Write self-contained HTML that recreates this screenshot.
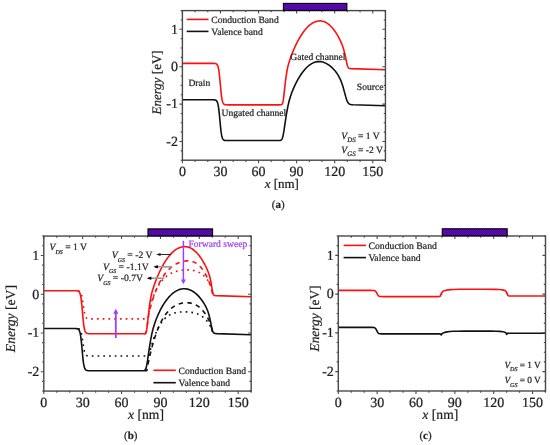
<!DOCTYPE html>
<html><head><meta charset="utf-8"><title>Energy band diagrams</title>
<style>html,body{margin:0;padding:0;background:#fff;} svg{display:block;}</style>
</head><body>
<svg width="550" height="445" viewBox="0 0 550 445" font-family="'Liberation Serif','Times New Roman',serif" fill="#1e1e1e">
<defs><pattern id="chk" width="2" height="2" patternUnits="userSpaceOnUse"><rect width="2" height="2" fill="#40088a"/><rect width="1" height="1" fill="#6a08c6"/><rect x="1" y="1" width="1" height="1" fill="#6a08c6"/></pattern></defs>
<rect width="550" height="445" fill="#fff"/>
<style>text{stroke:#1e1e1e;stroke-width:0.22px;text-rendering:geometricPrecision}</style>
<path d="M182.40,63.33 213.43,63.36 214.70,63.43 215.58,63.58 216.22,63.82 216.79,64.23 217.11,64.58 217.42,65.08 218.00,66.48 218.44,68.22 218.88,70.74 219.58,76.53 221.10,92.87 221.55,96.56 221.99,99.33 222.50,101.49 223.01,102.85 223.33,103.42 223.71,103.89 224.09,104.21 224.53,104.46 225.17,104.65 225.93,104.76 228.72,104.84 279.16,104.85 280.62,104.82 281.38,104.71 281.95,104.40 282.40,103.77 282.78,102.69 283.16,100.89 283.73,96.82 285.25,83.10 286.01,77.01 286.90,71.28 287.85,66.62 289.06,62.14 290.65,57.40 292.80,51.83 295.15,46.45 296.61,43.40 298.13,40.45 299.66,37.73 301.18,35.24 302.70,32.95 304.29,30.80 305.81,28.94 307.40,27.21 308.98,25.70 310.57,24.39 312.16,23.30 313.74,22.41 315.33,21.72 316.98,21.23 318.56,20.96 320.15,20.91 321.23,20.99 322.31,21.17 323.39,21.46 324.46,21.84 325.54,22.33 326.62,22.92 327.70,23.62 328.72,24.38 330.81,26.25 332.84,28.49 334.87,31.16 336.84,34.18 338.55,37.18 340.20,40.45 341.60,43.59 342.80,46.74 343.75,49.70 344.64,53.02 345.40,56.39 346.74,62.90 347.31,65.25 347.62,66.26 348.00,67.16 348.39,67.75 348.77,68.12 349.15,68.34 349.65,68.49 351.24,68.64 385.44,69.69" stroke="#ff1010" stroke-width="1.6" fill="none" stroke-linejoin="round"/>
<path d="M182.40,99.80 213.11,99.82 214.32,99.89 215.20,100.04 215.84,100.27 216.41,100.67 216.73,101.03 217.04,101.51 217.61,102.89 218.06,104.60 218.50,107.07 219.20,112.75 220.72,128.80 221.17,132.43 221.61,135.14 222.12,137.27 222.63,138.61 222.94,139.16 223.33,139.63 223.71,139.94 224.15,140.18 224.78,140.37 225.61,140.49 228.59,140.56 277.32,140.56 279.35,140.52 280.43,140.36 280.94,140.16 281.32,139.90 281.64,139.57 281.95,139.10 282.52,137.75 283.10,135.59 283.98,130.66 285.89,117.73 286.90,111.48 288.04,105.57 289.25,100.53 290.46,96.43 291.91,92.29 293.63,88.12 295.59,83.90 296.99,81.19 298.39,78.68 299.85,76.26 301.31,74.04 302.76,72.01 304.22,70.18 305.68,68.53 307.21,67.00 308.67,65.73 310.19,64.58 311.71,63.63 313.23,62.86 314.69,62.28 316.28,61.85 317.87,61.61 319.45,61.57 320.53,61.64 321.67,61.81 322.75,62.06 323.89,62.42 324.97,62.85 326.11,63.39 328.34,64.70 330.62,66.42 332.84,68.46 335.00,70.83 336.90,73.32 338.11,75.15 339.18,77.04 340.20,79.09 341.09,81.16 342.04,83.72 342.99,86.69 345.78,96.88 346.74,99.95 347.31,101.40 347.88,102.50 348.51,103.36 349.21,103.97 349.84,104.30 350.61,104.52 351.56,104.67 352.95,104.77 385.44,105.78" stroke="#111" stroke-width="1.6" fill="none" stroke-linejoin="round"/>
<path d="M182.40,160.20v3.0 M182.40,10.60v3.0 M195.09,160.20v1.7 M195.09,10.60v1.7 M207.78,160.20v1.7 M207.78,10.60v1.7 M220.47,160.20v3.0 M220.47,10.60v3.0 M233.16,160.20v1.7 M233.16,10.60v1.7 M245.85,160.20v1.7 M245.85,10.60v1.7 M258.54,160.20v3.0 M258.54,10.60v3.0 M271.23,160.20v1.7 M271.23,10.60v1.7 M283.92,160.20v1.7 M283.92,10.60v1.7 M296.61,160.20v3.0 M296.61,10.60v3.0 M309.30,160.20v1.7 M309.30,10.60v1.7 M321.99,160.20v1.7 M321.99,10.60v1.7 M334.68,160.20v3.0 M334.68,10.60v3.0 M347.37,160.20v1.7 M347.37,10.60v1.7 M360.06,160.20v1.7 M360.06,10.60v1.7 M372.75,160.20v3.0 M372.75,10.60v3.0 M385.44,160.20v1.7 M385.44,10.60v1.7 M182.40,160.20h-1.7 M385.44,160.20h-1.7 M182.40,150.85h-1.7 M385.44,150.85h-1.7 M182.40,141.50h-3.0 M385.44,141.50h-3.0 M182.40,132.15h-1.7 M385.44,132.15h-1.7 M182.40,122.80h-1.7 M385.44,122.80h-1.7 M182.40,113.45h-1.7 M385.44,113.45h-1.7 M182.40,104.10h-3.0 M385.44,104.10h-3.0 M182.40,94.75h-1.7 M385.44,94.75h-1.7 M182.40,85.40h-1.7 M385.44,85.40h-1.7 M182.40,76.05h-1.7 M385.44,76.05h-1.7 M182.40,66.70h-3.0 M385.44,66.70h-3.0 M182.40,57.35h-1.7 M385.44,57.35h-1.7 M182.40,48.00h-1.7 M385.44,48.00h-1.7 M182.40,38.65h-1.7 M385.44,38.65h-1.7 M182.40,29.30h-3.0 M385.44,29.30h-3.0 M182.40,19.95h-1.7 M385.44,19.95h-1.7 M182.40,10.60h-1.7 M385.44,10.60h-1.7" stroke="#484848" stroke-width="1.1" fill="none"/>
<rect x="182.40" y="10.60" width="203.04" height="149.60" fill="none" stroke="#484848" stroke-width="1.4"/>
<text x="182.40" y="176.30" text-anchor="middle" font-size="14">0</text>
<text x="220.47" y="176.30" text-anchor="middle" font-size="14">30</text>
<text x="258.54" y="176.30" text-anchor="middle" font-size="14">60</text>
<text x="296.61" y="176.30" text-anchor="middle" font-size="14">90</text>
<text x="334.68" y="176.30" text-anchor="middle" font-size="14">120</text>
<text x="372.75" y="176.30" text-anchor="middle" font-size="14">150</text>
<text x="177.90" y="33.60" text-anchor="end" font-size="14">1</text>
<text x="177.90" y="71.00" text-anchor="end" font-size="14">0</text>
<text x="177.90" y="108.40" text-anchor="end" font-size="14">-1</text>
<text x="177.90" y="145.80" text-anchor="end" font-size="14">-2</text>
<rect x="283.40" y="3.40" width="63.47" height="7.0" fill="url(#chk)" stroke="#000" stroke-width="1.1"/>
<line x1="186.7" y1="19.4" x2="208.5" y2="19.4" stroke="#ff1010" stroke-width="1.6"/>
<line x1="186.7" y1="31.4" x2="208.5" y2="31.4" stroke="#111" stroke-width="1.6"/>
<text x="211.3" y="22.6" font-size="9.6">Conduction Band</text>
<text x="211.3" y="34.7" font-size="9.6">Valence band</text>
<text x="188.4" y="86" font-size="9.6">Drain</text>
<text x="221.5" y="115.7" font-size="9.6">Ungated channel</text>
<text x="290.3" y="59.6" font-size="9.6">Gated channel</text>
<text x="356.8" y="89.5" font-size="9.6">Source</text>
<text x="341.30" y="138.90" font-size="9.6" text-anchor="start"><tspan font-style="italic">V</tspan><tspan font-style="italic" font-size="6.90" dy="3.0">DS</tspan><tspan dy="-3.0"> = 1 V</tspan></text>
<text x="341.30" y="153.00" font-size="9.6" text-anchor="start"><tspan font-style="italic">V</tspan><tspan font-style="italic" font-size="6.90" dy="3.0">GS</tspan><tspan dy="-3.0"> = -2 V</tspan></text>
<text transform="translate(160.5,82.4) rotate(-90)" text-anchor="middle" font-size="13"><tspan font-style="italic">Energy</tspan> [eV]</text>
<text x="281.8" y="187.6" text-anchor="middle" font-size="13"><tspan font-style="italic">x</tspan> [nm]</text>
<text x="278.2" y="207.5" text-anchor="middle" font-size="11">(<tspan font-weight="bold">a</tspan>)</text>
<path d="M78.14,290.83 78.79,290.94 79.38,291.14 79.83,291.41 80.22,291.75 80.61,292.26 80.93,292.85 81.51,294.46 81.97,296.34 82.42,298.84 83.78,308.61 84.30,311.91 84.88,314.66 85.47,316.46 85.79,317.12 86.11,317.62 86.50,318.04 86.89,318.32 87.35,318.53 87.93,318.70 89.61,318.85 148.00,318.88 148.78,312.62 149.36,309.04 150.14,305.69 151.24,302.05 153.05,296.98 155.06,292.19 157.14,288.00 158.24,286.05 159.34,284.28 161.35,281.45 163.42,279.03 164.52,277.93 165.62,276.93 166.79,275.99 167.96,275.14 169.19,274.36 170.48,273.63 171.84,272.96 173.21,272.38 176.19,271.38 179.43,270.62 182.73,270.13 186.10,269.89 189.28,269.92 192.19,270.21 194.85,270.76 197.31,271.57 199.58,272.64 201.72,274.00 202.82,274.86 203.92,275.83 204.96,276.86 205.99,278.02 207.03,279.31 208.00,280.65 209.75,283.47 210.66,285.26 211.31,286.97 211.76,288.63 212.86,293.56 213.19,294.54 213.58,295.31" stroke="#ff1010" stroke-width="1.6" fill="none" stroke-dasharray="1.7 4.05"/>
<path d="M144.24,333.72 145.34,333.72 145.41,333.67 145.86,332.96 146.25,331.91 146.57,330.51 146.96,328.11 148.06,319.19 148.58,315.57 149.16,312.45 149.88,309.40 151.63,303.04 153.57,296.91 155.64,291.21 157.78,286.14 159.66,282.27 161.67,278.68 163.74,275.48 165.95,272.58 168.28,269.99 170.68,267.76 173.21,265.82 174.57,264.93 175.93,264.14 177.48,263.34 179.04,262.65 180.59,262.07 182.15,261.60 183.70,261.23 185.19,260.99 186.68,260.85 188.17,260.83 189.60,260.93 190.96,261.14 192.26,261.45 193.55,261.89 194.78,262.43 196.02,263.11 197.18,263.88 198.28,264.73 199.38,265.72 200.42,266.79 201.46,267.99 202.50,269.34 203.53,270.85 204.50,272.42 206.38,275.90 207.42,278.09 208.46,280.50 209.43,282.98 210.34,285.51 211.50,289.30 213.06,295.52 213.58,295.56" stroke="#ff1010" stroke-width="1.6" fill="none" stroke-dasharray="4.5 4.3"/>
<path d="M78.14,328.67 78.73,328.81 79.18,329.01 79.57,329.27 79.96,329.65 80.28,330.10 80.61,330.72 81.19,332.38 81.64,334.30 82.10,336.83 83.39,345.98 83.91,349.19 84.43,351.64 85.01,353.48 85.34,354.17 85.66,354.68 86.05,355.12 86.44,355.42 86.89,355.64 87.48,355.81 89.16,355.97 148.84,356.00 149.94,351.30 151.30,346.23 152.73,341.52 154.15,337.33 155.64,333.47 157.20,329.93 158.82,326.75 160.44,324.02 162.12,321.60 163.87,319.51 165.69,317.72 167.63,316.18 169.71,314.89 171.91,313.86 174.31,313.05 176.90,312.45 180.01,312.04 183.38,311.85 186.94,311.89 190.31,312.17 193.23,312.63 195.82,313.29 198.22,314.17 200.42,315.27 202.50,316.62 204.50,318.30 206.38,320.25 208.13,322.46 209.36,324.32 210.34,326.07 211.11,327.87 212.34,331.48 212.80,332.65 213.19,333.46 213.25,333.53 213.58,333.53" stroke="#111" stroke-width="1.6" fill="none" stroke-dasharray="1.7 4.05"/>
<path d="M144.24,370.73 146.70,370.73 146.77,370.54 148.32,362.65 149.75,356.11 151.37,349.43 152.99,343.43 154.74,337.66 156.49,332.55 158.30,327.88 160.18,323.66 161.87,320.36 163.55,317.46 165.30,314.84 167.18,312.41 169.12,310.28 171.13,308.44 173.27,306.83 175.47,305.49 176.90,304.79 178.39,304.17 179.88,303.67 181.37,303.27 182.93,302.97 184.48,302.78 186.04,302.70 187.59,302.72 189.08,302.85 190.57,303.09 192.00,303.43 193.42,303.89 194.78,304.44 196.08,305.08 197.38,305.83 198.61,306.68 199.84,307.65 201.00,308.70 202.17,309.89 203.27,311.15 204.37,312.55 205.48,314.10 206.51,315.71 207.48,317.37 208.85,320.01 209.95,322.58 210.79,325.11 212.47,331.23 213.06,332.71 213.45,333.45 213.58,333.53" stroke="#111" stroke-width="1.6" fill="none" stroke-dasharray="4.5 4.3"/>
<path d="M43.80,290.71 75.49,290.74 76.78,290.81 77.69,290.96 78.34,291.21 78.92,291.64 79.25,292.01 79.57,292.52 80.15,293.98 80.61,295.78 81.06,298.38 81.77,304.38 83.33,321.32 83.78,325.14 84.24,328.01 84.75,330.25 85.27,331.66 85.60,332.24 85.98,332.74 86.37,333.07 86.83,333.32 87.48,333.52 88.25,333.64 91.10,333.72 142.75,333.72 144.24,333.70 144.95,333.59 145.28,333.45 145.54,333.25 145.99,332.54 146.38,331.32 146.70,329.69 147.29,325.42 148.78,311.76 149.62,304.89 150.53,298.95 151.50,294.12 152.73,289.48 154.41,284.38 156.68,278.46 159.14,272.77 160.63,269.64 162.12,266.75 163.68,263.96 165.24,261.40 166.79,259.07 168.41,256.86 170.03,254.89 171.65,253.13 173.27,251.59 174.96,250.21 176.58,249.10 178.26,248.16 179.94,247.44 181.63,246.94 183.31,246.66 184.93,246.60 186.10,246.68 187.27,246.88 188.43,247.18 189.60,247.60 190.77,248.13 191.87,248.74 193.03,249.50 194.14,250.33 195.24,251.27 196.34,252.33 198.54,254.79 200.68,257.65 202.75,260.89 204.63,264.25 206.45,267.91 208.00,271.48 209.17,274.68 209.95,277.36 210.66,280.51 211.24,283.71 212.34,290.61 212.73,292.60 213.25,294.32 213.58,294.90 213.90,295.23 214.55,295.51 215.84,295.62 251.16,296.72" stroke="#ff1010" stroke-width="1.6" fill="none" stroke-linejoin="round"/>
<path d="M43.80,328.49 75.16,328.52 76.39,328.59 77.30,328.74 77.95,328.98 78.53,329.40 78.86,329.77 79.18,330.27 79.76,331.70 80.22,333.47 80.67,336.03 81.38,341.92 82.94,358.55 83.39,362.30 83.85,365.12 84.36,367.32 84.88,368.70 85.21,369.28 85.60,369.76 85.98,370.09 86.44,370.33 87.09,370.53 87.93,370.65 90.97,370.73 141.00,370.73 143.01,370.68 144.05,370.52 144.50,370.34 144.89,370.07 145.21,369.73 145.54,369.22 146.12,367.75 146.64,365.69 147.48,360.92 149.42,347.46 150.53,340.60 151.69,334.53 152.99,329.09 154.35,324.46 155.90,320.03 157.78,315.43 159.86,310.99 161.28,308.24 162.71,305.72 164.13,303.41 165.62,301.20 167.11,299.20 168.60,297.39 170.16,295.71 171.72,294.23 173.40,292.83 175.08,291.65 176.77,290.68 178.58,289.86 180.07,289.36 181.63,289.00 183.18,288.81 184.68,288.78 185.91,288.87 187.07,289.06 188.30,289.35 189.47,289.73 190.70,290.23 191.87,290.82 193.03,291.50 194.20,292.28 195.37,293.18 196.47,294.12 198.74,296.38 200.94,299.00 203.08,302.00 204.57,304.40 205.93,306.90 207.03,309.26 208.00,311.77 208.85,314.44 209.62,317.46 211.63,327.19 212.28,329.89 212.67,331.11 213.06,332.00 213.45,332.60 213.96,333.08 214.42,333.32 214.94,333.46 216.69,333.62 251.16,334.69" stroke="#111" stroke-width="1.6" fill="none" stroke-linejoin="round"/>
<path d="M43.80,391.07v3.0 M43.80,236.07v3.0 M56.76,391.07v1.7 M56.76,236.07v1.7 M69.72,391.07v1.7 M69.72,236.07v1.7 M82.68,391.07v3.0 M82.68,236.07v3.0 M95.64,391.07v1.7 M95.64,236.07v1.7 M108.60,391.07v1.7 M108.60,236.07v1.7 M121.56,391.07v3.0 M121.56,236.07v3.0 M134.52,391.07v1.7 M134.52,236.07v1.7 M147.48,391.07v1.7 M147.48,236.07v1.7 M160.44,391.07v3.0 M160.44,236.07v3.0 M173.40,391.07v1.7 M173.40,236.07v1.7 M186.36,391.07v1.7 M186.36,236.07v1.7 M199.32,391.07v3.0 M199.32,236.07v3.0 M212.28,391.07v1.7 M212.28,236.07v1.7 M225.24,391.07v1.7 M225.24,236.07v1.7 M238.20,391.07v3.0 M238.20,236.07v3.0 M251.16,391.07v1.7 M251.16,236.07v1.7 M43.80,391.07h-1.7 M251.16,391.07h-1.7 M43.80,381.39h-1.7 M251.16,381.39h-1.7 M43.80,371.70h-3.0 M251.16,371.70h-3.0 M43.80,362.01h-1.7 M251.16,362.01h-1.7 M43.80,352.32h-1.7 M251.16,352.32h-1.7 M43.80,342.64h-1.7 M251.16,342.64h-1.7 M43.80,332.95h-3.0 M251.16,332.95h-3.0 M43.80,323.26h-1.7 M251.16,323.26h-1.7 M43.80,313.57h-1.7 M251.16,313.57h-1.7 M43.80,303.89h-1.7 M251.16,303.89h-1.7 M43.80,294.20h-3.0 M251.16,294.20h-3.0 M43.80,284.51h-1.7 M251.16,284.51h-1.7 M43.80,274.82h-1.7 M251.16,274.82h-1.7 M43.80,265.14h-1.7 M251.16,265.14h-1.7 M43.80,255.45h-3.0 M251.16,255.45h-3.0 M43.80,245.76h-1.7 M251.16,245.76h-1.7 M43.80,236.07h-1.7 M251.16,236.07h-1.7" stroke="#484848" stroke-width="1.1" fill="none"/>
<rect x="43.80" y="236.07" width="207.36" height="155.00" fill="none" stroke="#484848" stroke-width="1.4"/>
<text x="43.80" y="407.18" text-anchor="middle" font-size="14">0</text>
<text x="82.68" y="407.18" text-anchor="middle" font-size="14">30</text>
<text x="121.56" y="407.18" text-anchor="middle" font-size="14">60</text>
<text x="160.44" y="407.18" text-anchor="middle" font-size="14">90</text>
<text x="199.32" y="407.18" text-anchor="middle" font-size="14">120</text>
<text x="238.20" y="407.18" text-anchor="middle" font-size="14">150</text>
<text x="39.30" y="259.75" text-anchor="end" font-size="14">1</text>
<text x="39.30" y="298.50" text-anchor="end" font-size="14">0</text>
<text x="39.30" y="337.25" text-anchor="end" font-size="14">-1</text>
<text x="39.30" y="376.00" text-anchor="end" font-size="14">-2</text>
<rect x="147.98" y="228.88" width="64.58" height="7.0" fill="url(#chk)" stroke="#000" stroke-width="1.1"/>
<line x1="115.8" y1="338.1" x2="115.8" y2="313" stroke="#a040f0" stroke-width="1.8"/>
<path d="M113.2,313.8 L115.8,308.8 L118.4,313.8 Z" fill="#a040f0"/>
<line x1="183.4" y1="240.8" x2="183.4" y2="280" stroke="#a040f0" stroke-width="1.5"/>
<path d="M180.9,279.4 L183.4,284.3 L185.9,279.4 Z" fill="#a040f0"/>
<text x="188.4" y="246.6" font-size="9.6" fill="#a040f0" style="stroke:#a040f0">Forward sweep</text>
<line x1="158" y1="254.5" x2="170.7" y2="254.5" stroke="#111" stroke-width="0.9"/>
<path d="M156.2,254.5 L160.5,252.9 L160.5,256.1 Z" fill="#111"/>
<line x1="157" y1="266.8" x2="172" y2="266.8" stroke="#999" stroke-width="1.6"/>
<path d="M153.4,266.8 L157.8,265.1 L157.8,268.5 Z" fill="#111"/><line x1="155" y1="266.8" x2="158" y2="266.8" stroke="#111" stroke-width="1.6"/>
<line x1="150.5" y1="278.2" x2="164.5" y2="278.2" stroke="#999" stroke-width="1.6"/>
<path d="M146.8,278.2 L151.2,276.5 L151.2,279.9 Z" fill="#111"/><line x1="148.5" y1="278.2" x2="151.5" y2="278.2" stroke="#111" stroke-width="1.6"/>
<text x="152.50" y="258.40" font-size="9.7" text-anchor="end"><tspan font-style="italic">V</tspan><tspan font-style="italic" font-size="5.90" dy="3.7">GS</tspan><tspan dy="-3.7"> = -2 V</tspan></text>
<text x="148.80" y="269.70" font-size="9.7" text-anchor="end"><tspan font-style="italic">V</tspan><tspan font-style="italic" font-size="5.90" dy="3.7">GS</tspan><tspan dy="-3.7"> = -1.1V</tspan></text>
<text x="143.00" y="281.40" font-size="9.7" text-anchor="end"><tspan font-style="italic">V</tspan><tspan font-style="italic" font-size="5.90" dy="3.7">GS</tspan><tspan dy="-3.7"> = -0.7V</tspan></text>
<text x="49.60" y="249.90" font-size="9.6" text-anchor="start"><tspan font-style="italic">V</tspan><tspan font-style="italic" font-size="6.00" dy="3.7">DS</tspan><tspan dy="-3.7"> = 1 V</tspan></text>
<line x1="153.4" y1="370.3" x2="175.8" y2="370.3" stroke="#ff1010" stroke-width="1.6"/>
<line x1="153.4" y1="382.7" x2="175.8" y2="382.7" stroke="#111" stroke-width="1.6"/>
<text x="178.6" y="373.7" font-size="9.6">Conduction Band</text>
<text x="178.6" y="386" font-size="9.6">Valence band</text>
<text transform="translate(15.4,318.6) rotate(-90)" text-anchor="middle" font-size="13.6"><tspan font-style="italic">Energy</tspan> [eV]</text>
<text x="146.0" y="419.0" text-anchor="middle" font-size="13.6"><tspan font-style="italic">x</tspan> [nm]</text>
<text x="130.7" y="438.7" text-anchor="middle" font-size="11">(<tspan font-weight="bold">b</tspan>)</text>
<path d="M338.30,290.42 370.93,290.42 372.81,290.45 373.91,290.53 374.50,290.65 375.01,290.85 375.40,291.11 375.79,291.47 376.44,292.41 377.73,294.85 378.12,295.41 378.51,295.82 378.96,296.15 379.42,296.35 380.00,296.49 380.78,296.57 384.14,296.62 437.82,296.62 439.44,296.52 439.89,296.35 440.22,296.10 440.48,295.74 440.73,295.20 441.32,293.20 441.38,294.29 441.84,293.03 442.22,292.20 442.61,291.65 443.13,291.21 443.97,290.81 445.20,290.43 446.69,290.10 448.44,289.83 450.58,289.61 453.04,289.46 459.97,289.30 484.89,289.26 495.58,289.36 498.94,289.51 501.53,289.74 503.67,290.10 505.03,290.54 505.55,290.88 506.00,291.42 506.39,292.18 506.84,293.43 506.91,292.65 507.43,294.40 507.88,295.33 508.33,295.76 509.05,295.98 511.05,296.04 545.50,296.04" stroke="#ff1010" stroke-width="1.6" fill="none" stroke-linejoin="round"/>
<path d="M338.30,327.39 370.68,327.39 372.55,327.42 373.65,327.50 374.24,327.63 374.75,327.84 375.14,328.11 375.53,328.50 376.18,329.47 377.54,332.15 377.93,332.71 378.38,333.18 378.83,333.47 379.42,333.69 380.13,333.81 381.16,333.87 439.31,333.88 439.89,333.98 440.54,334.48 440.73,334.57 440.99,334.42 441.32,333.74 441.38,334.91 442.09,333.69 442.42,333.37 442.81,333.13 443.65,332.76 444.75,332.40 447.21,331.86 449.93,331.52 453.30,331.30 457.70,331.18 464.24,331.12 490.92,331.14 496.10,331.23 499.72,331.41 502.89,331.80 504.25,332.09 505.23,332.40 505.61,332.62 505.87,332.88 506.59,334.14 506.84,334.46 506.91,333.53 507.04,333.64 507.23,333.68 507.88,333.30 508.33,333.20 545.50,333.24" stroke="#111" stroke-width="1.6" fill="none" stroke-linejoin="round"/>
<path d="M338.30,390.98v3.0 M338.30,235.98v3.0 M351.25,390.98v1.7 M351.25,235.98v1.7 M364.20,390.98v1.7 M364.20,235.98v1.7 M377.15,390.98v3.0 M377.15,235.98v3.0 M390.10,390.98v1.7 M390.10,235.98v1.7 M403.05,390.98v1.7 M403.05,235.98v1.7 M416.00,390.98v3.0 M416.00,235.98v3.0 M428.95,390.98v1.7 M428.95,235.98v1.7 M441.90,390.98v1.7 M441.90,235.98v1.7 M454.85,390.98v3.0 M454.85,235.98v3.0 M467.80,390.98v1.7 M467.80,235.98v1.7 M480.75,390.98v1.7 M480.75,235.98v1.7 M493.70,390.98v3.0 M493.70,235.98v3.0 M506.65,390.98v1.7 M506.65,235.98v1.7 M519.60,390.98v1.7 M519.60,235.98v1.7 M532.55,390.98v3.0 M532.55,235.98v3.0 M545.50,390.98v1.7 M545.50,235.98v1.7 M338.30,390.98h-1.7 M545.50,390.98h-1.7 M338.30,381.29h-1.7 M545.50,381.29h-1.7 M338.30,371.60h-3.0 M545.50,371.60h-3.0 M338.30,361.91h-1.7 M545.50,361.91h-1.7 M338.30,352.23h-1.7 M545.50,352.23h-1.7 M338.30,342.54h-1.7 M545.50,342.54h-1.7 M338.30,332.85h-3.0 M545.50,332.85h-3.0 M338.30,323.16h-1.7 M545.50,323.16h-1.7 M338.30,313.48h-1.7 M545.50,313.48h-1.7 M338.30,303.79h-1.7 M545.50,303.79h-1.7 M338.30,294.10h-3.0 M545.50,294.10h-3.0 M338.30,284.41h-1.7 M545.50,284.41h-1.7 M338.30,274.73h-1.7 M545.50,274.73h-1.7 M338.30,265.04h-1.7 M545.50,265.04h-1.7 M338.30,255.35h-3.0 M545.50,255.35h-3.0 M338.30,245.66h-1.7 M545.50,245.66h-1.7 M338.30,235.98h-1.7 M545.50,235.98h-1.7" stroke="#484848" stroke-width="1.1" fill="none"/>
<rect x="338.30" y="235.98" width="207.20" height="155.00" fill="none" stroke="#484848" stroke-width="1.4"/>
<text x="338.30" y="407.08" text-anchor="middle" font-size="14">0</text>
<text x="377.15" y="407.08" text-anchor="middle" font-size="14">30</text>
<text x="416.00" y="407.08" text-anchor="middle" font-size="14">60</text>
<text x="454.85" y="407.08" text-anchor="middle" font-size="14">90</text>
<text x="493.70" y="407.08" text-anchor="middle" font-size="14">120</text>
<text x="532.55" y="407.08" text-anchor="middle" font-size="14">150</text>
<text x="333.80" y="259.65" text-anchor="end" font-size="14">1</text>
<text x="333.80" y="298.40" text-anchor="end" font-size="14">0</text>
<text x="333.80" y="337.15" text-anchor="end" font-size="14">-1</text>
<text x="333.80" y="375.90" text-anchor="end" font-size="14">-2</text>
<rect x="442.27" y="228.78" width="64.92" height="7.0" fill="url(#chk)" stroke="#000" stroke-width="1.1"/>
<line x1="343.6" y1="245.4" x2="366" y2="245.4" stroke="#ff1010" stroke-width="1.6"/>
<line x1="343.6" y1="257.6" x2="366" y2="257.6" stroke="#111" stroke-width="1.6"/>
<text x="368.4" y="249.0" font-size="9.75">Conduction Band</text>
<text x="368.4" y="261.3" font-size="9.75">Valence band</text>
<text x="504.40" y="367.60" font-size="9.3" text-anchor="start"><tspan font-style="italic">V</tspan><tspan font-style="italic" font-size="6.00" dy="3.6">DS</tspan><tspan dy="-3.6"> = 1 V</tspan></text>
<text x="504.40" y="382.90" font-size="9.3" text-anchor="start"><tspan font-style="italic">V</tspan><tspan font-style="italic" font-size="6.00" dy="3.6">GS</tspan><tspan dy="-3.6"> = 0 V</tspan></text>
<text transform="translate(318.6,318.5) rotate(-90)" text-anchor="middle" font-size="13.4"><tspan font-style="italic">Energy</tspan> [eV]</text>
<text x="440.3" y="419.0" text-anchor="middle" font-size="13.6"><tspan font-style="italic">x</tspan> [nm]</text>
<text x="425.5" y="438.7" text-anchor="middle" font-size="11">(<tspan font-weight="bold">c</tspan>)</text>
</svg>
</body></html>
